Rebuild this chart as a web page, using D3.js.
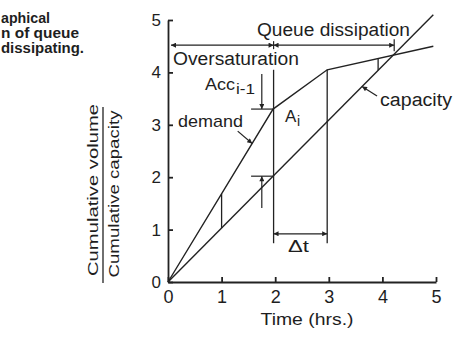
<!DOCTYPE html>
<html>
<head>
<meta charset="utf-8">
<script src="https://cdn.jsdelivr.net/npm/d3@7"></script>
<style>
  body { margin: 0; background: #fff; }
  text { font-family: "Liberation Sans", Arial, sans-serif; fill: #1e1e1e; }
</style>
</head>
<body>
<div id="chart"></div>
<script>
'use strict';

let width = 474;
let height = 353;
let margin = { top: 20, bottom: 71, left: 168, right: 38 };

// axis ticks
const timeTicks = [0, 1, 2, 3, 4, 5];
const volumeTicks = [0, 1, 2, 3, 4, 5];

// cumulative demand (break points)
const demandTime = [0, 1.96, 2.97, 4.95];
const demandVolume = [0, 3.3, 4.05, 4.5];

// cumulative capacity
const capacityTime = [0, 4.95];
const capacityVolume = [0, 5.1];

// queue measured between the two curves
const queueTime = [1, 3.92];

// long verticals (start of step, end of step), drawn down to baseLevel
const stepTime = [1.97, 2.97];
const stepTop = [4.05, 4.05];
const baseLevel = 0.74;

// annotation anchors (data units)
const oversatEnd = 1.97;
const dissipEnd = 4.22;
const dimLevel = 4.52;
const deltaLevel = 0.92;
const accTime = 1.75;

const caption = ["aphical", "n of queue", "dissipating."];

const svg = d3.select("#chart")
    .append("svg")
    .attr("width", width)
    .attr("height", height);

const x = d3.scaleLinear().domain([0, 5]).range([margin.left, width - margin.right]);
const y = d3.scaleLinear().domain([0, 5]).range([height - margin.bottom, margin.top]);

// piecewise curves
const demandAt = d3.scaleLinear().domain(demandTime).range(demandVolume);
const capacityAt = d3.scaleLinear().domain(capacityTime).range(capacityVolume);

const ink = "#222";

svg.append("defs").append("marker")
    .attr("id", "arrow")
    .attr("viewBox", "0 0 10 10")
    .attr("refX", 10).attr("refY", 5)
    .attr("markerWidth", 7).attr("markerHeight", 5)
    .attr("markerUnits", "userSpaceOnUse")
    .attr("orient", "auto-start-reverse")
    .append("path")
    .attr("d", "M0,0L10,5L0,10z")
    .attr("fill", ink);

// caption (cropped in the original)
svg.append("g")
    .selectAll("text")
    .data(caption)
    .join("text")
    .attr("x", 1)
    .attr("y", (d, i) => 23 + i * 15)
    .attr("font-weight", "bold")
    .attr("font-size", 14)
    .attr("textLength", (d, i) => [49, 78, 83][i])
    .attr("lengthAdjust", "spacingAndGlyphs")
    .text(d => d);

// axes
const xAxis = svg.append("g")
    .attr("transform", `translate(0,${y(0)})`)
    .call(d3.axisBottom(x).tickValues(timeTicks).tickFormat(d3.format("d"))
        .tickSize(-5).tickSizeOuter(0).tickPadding(8));

const yAxis = svg.append("g")
    .attr("transform", `translate(${x(0)},0)`)
    .call(d3.axisLeft(y).tickValues(volumeTicks).tickFormat(d3.format("d"))
        .tickSize(-5).tickSizeOuter(0).tickPadding(7));

[xAxis, yAxis].forEach(g => {
    g.selectAll("path, line").attr("stroke", ink).attr("stroke-width", 1.8);
    g.selectAll("text").attr("fill", ink).attr("font-size", 18)
        .style("font-family", '"Liberation Sans", Arial, sans-serif');
});
yAxis.selectAll("text").attr("font-size", 17);

// axis titles
function label(px, py, txt, size, len, anchor) {
    const t = svg.append("text")
        .attr("x", px).attr("y", py)
        .attr("font-size", size)
        .text(txt);
    if (len) t.attr("textLength", len).attr("lengthAdjust", "spacingAndGlyphs");
    if (anchor) t.attr("text-anchor", anchor);
    return t;
}

label(307, 325, "Time (hrs.)", 17, 93, "middle");

const yTitle = svg.append("g");
yTitle.append("text")
    .attr("transform", "translate(98,190) rotate(-90)")
    .attr("text-anchor", "middle")
    .attr("font-size", 15)
    .attr("textLength", 172)
    .attr("lengthAdjust", "spacingAndGlyphs")
    .text("Cumulative volume");
yTitle.append("line")
    .attr("x1", 103).attr("x2", 103)
    .attr("y1", 107).attr("y2", 283)
    .attr("stroke", ink).attr("stroke-width", 1.3);
yTitle.append("text")
    .attr("transform", "translate(119,194) rotate(-90)")
    .attr("text-anchor", "middle")
    .attr("font-size", 15)
    .attr("textLength", 167)
    .attr("lengthAdjust", "spacingAndGlyphs")
    .text("Cumulative capacity");

// curves
const line = d3.line().x(d => x(d[0])).y(d => y(d[1]));

svg.append("path")
    .datum(demandTime.map((t, i) => [t, demandVolume[i]]))
    .attr("d", line)
    .attr("fill", "none").attr("stroke", ink).attr("stroke-width", 1.4);

svg.append("path")
    .datum(capacityTime.map((t, i) => [t, capacityVolume[i]]))
    .attr("d", line)
    .attr("fill", "none").attr("stroke", ink).attr("stroke-width", 1.4);

// queue verticals
svg.selectAll(".queue")
    .data(queueTime)
    .join("line")
    .attr("class", "queue")
    .attr("x1", d => x(d)).attr("x2", d => x(d))
    .attr("y1", d => y(demandAt(d))).attr("y2", d => y(capacityAt(d)))
    .attr("stroke", ink).attr("stroke-width", 1.3);

svg.selectAll(".step")
    .data(stepTime)
    .join("line")
    .attr("class", "step")
    .attr("x1", d => x(d)).attr("x2", d => x(d))
    .attr("y1", (d, i) => y(stepTop[i])).attr("y2", y(baseLevel))
    .attr("stroke", ink).attr("stroke-width", 1.3);

function seg(x1, y1, x2, y2, start, end) {
    const l = svg.append("line")
        .attr("x1", x1).attr("y1", y1).attr("x2", x2).attr("y2", y2)
        .attr("stroke", ink).attr("stroke-width", 1.2);
    if (start) l.attr("marker-start", "url(#arrow)");
    if (end) l.attr("marker-end", "url(#arrow)");
    return l;
}

// oversaturation / queue dissipation dimension
seg(x(0) + 3, y(dimLevel), x(oversatEnd), y(dimLevel), true, true);
seg(x(oversatEnd), y(dimLevel), x(dissipEnd), y(dimLevel), true, true);
seg(x(oversatEnd), y(dimLevel) - 4, x(oversatEnd), y(dimLevel) + 4);
seg(x(dissipEnd), y(dimLevel) - 6, x(dissipEnd), y(dimLevel) + 6);

// delta t
seg(x(stepTime[0]), y(deltaLevel), x(stepTime[1]), y(deltaLevel), true, true);

// accumulation markers
const accDemand = demandAt(demandTime[1]);
const accCapacity = capacityAt(demandTime[1]);
seg(x(accTime - 0.2), y(accDemand), x(demandTime[1]), y(accDemand));
seg(x(accTime), y(3.97), x(accTime), y(accDemand), false, true);
seg(x(accTime - 0.2), y(accCapacity), x(demandTime[1]), y(accCapacity));
seg(x(accTime), y(1.41), x(accTime), y(accCapacity), false, true);

// leaders
seg(x(1.3), y(2.88), x(1.57), y(demandAt(1.57)), false, true);
seg(x(3.9), y(3.55), x(3.62), y(capacityAt(3.62)), false, true);

// labels
label(257, 36, "Queue dissipation", 18, 153);
label(173, 65, "Oversaturation", 18, 126);
label(205, 90, "Acc", 17, 30);
label(236, 94, "i-1", 14, 19);
label(178, 127, "demand", 17, 65);
label(285, 122, "A", 17);
label(297, 126, "i", 14);
label(380, 106, "capacity", 18, 72);
label(288, 252, "\u0394t", 17, 21);
</script>
</body>
</html>
